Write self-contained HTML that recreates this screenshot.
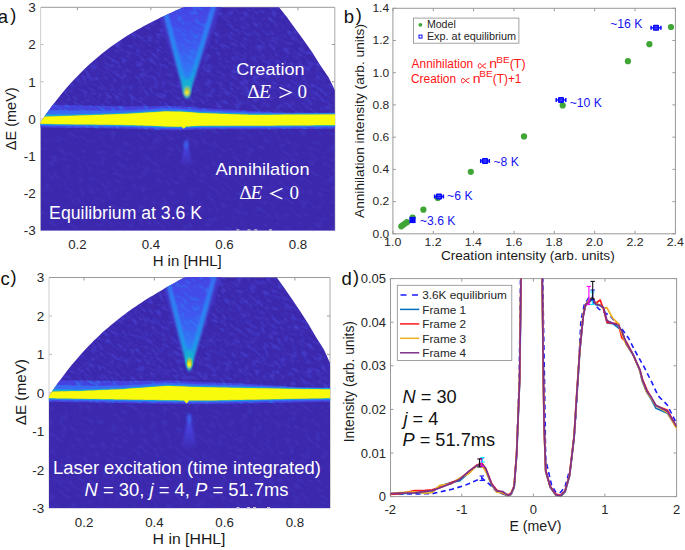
<!DOCTYPE html>
<html><head><meta charset="utf-8"><style>
html,body{margin:0;padding:0;background:#fff;}
svg{display:block;}
</style></head><body>
<svg width="685" height="550" viewBox="0 0 685 550">
<rect width="685" height="550" fill="#fff"/>
<defs><filter id="noisea" x="0" y="0" width="100%" height="100%"><feTurbulence type="fractalNoise" baseFrequency="0.045 0.11" numOctaves="2" seed="4" result="t"/><feColorMatrix in="t" type="matrix" values="0 0 0 0 0  0 0 0 0 0  0 0 0 0 0  0 0 0 4 -2.0" result="m"/><feComposite in="SourceGraphic" in2="m" operator="in"/></filter><filter id="noiseab" x="0" y="0" width="100%" height="100%"><feTurbulence type="fractalNoise" baseFrequency="0.05 0.12" numOctaves="2" seed="9" result="t"/><feColorMatrix in="t" type="matrix" values="0 0 0 0 0  0 0 0 0 0  0 0 0 0 0  0 0 0 4 -2.0" result="m"/><feComposite in="SourceGraphic" in2="m" operator="in"/></filter><filter id="noisec" x="0" y="0" width="100%" height="100%"><feTurbulence type="fractalNoise" baseFrequency="0.045 0.11" numOctaves="2" seed="7" result="t"/><feColorMatrix in="t" type="matrix" values="0 0 0 0 0  0 0 0 0 0  0 0 0 0 0  0 0 0 4 -2.0" result="m"/><feComposite in="SourceGraphic" in2="m" operator="in"/></filter><filter id="noisecb" x="0" y="0" width="100%" height="100%"><feTurbulence type="fractalNoise" baseFrequency="0.05 0.12" numOctaves="2" seed="11" result="t"/><feColorMatrix in="t" type="matrix" values="0 0 0 0 0  0 0 0 0 0  0 0 0 0 0  0 0 0 4 -2.0" result="m"/><feComposite in="SourceGraphic" in2="m" operator="in"/></filter>
<filter id="blur1" x="-5%" y="-5%" width="110%" height="110%"><feGaussianBlur stdDeviation="2.2"/></filter><filter id="blur2"><feGaussianBlur stdDeviation="5"/></filter><filter id="blur4" x="-10%" y="-10%" width="120%" height="120%"><feGaussianBlur stdDeviation="3.5"/></filter><filter id="blur3" x="-5%" y="-5%" width="110%" height="110%"><feGaussianBlur stdDeviation="1.4"/></filter></defs>
<line x1="40.6" y1="7.3" x2="334.8" y2="7.3" stroke="#9a9a9a" stroke-width="1"/>
<line x1="40.6" y1="7.3" x2="40.6" y2="230.6" stroke="#cfcfcf" stroke-width="1"/>
<line x1="334.8" y1="7.3" x2="334.8" y2="230.6" stroke="#a8a8a8" stroke-width="1"/>
<line x1="77.4" y1="7.3" x2="77.4" y2="10.3" stroke="#9a9a9a"/>
<line x1="150.9" y1="7.3" x2="150.9" y2="10.3" stroke="#9a9a9a"/>
<line x1="224.5" y1="7.3" x2="224.5" y2="10.3" stroke="#9a9a9a"/>
<line x1="298.0" y1="7.3" x2="298.0" y2="10.3" stroke="#9a9a9a"/>
<line x1="331.8" y1="44.5" x2="334.8" y2="44.5" stroke="#9a9a9a"/>
<line x1="40.6" y1="44.5" x2="43.6" y2="44.5" stroke="#bdbdbd"/>
<line x1="331.8" y1="81.7" x2="334.8" y2="81.7" stroke="#9a9a9a"/>
<line x1="40.6" y1="81.7" x2="43.6" y2="81.7" stroke="#bdbdbd"/>
<line x1="331.8" y1="118.9" x2="334.8" y2="118.9" stroke="#9a9a9a"/>
<line x1="40.6" y1="118.9" x2="43.6" y2="118.9" stroke="#bdbdbd"/>
<line x1="331.8" y1="156.2" x2="334.8" y2="156.2" stroke="#9a9a9a"/>
<line x1="40.6" y1="156.2" x2="43.6" y2="156.2" stroke="#bdbdbd"/>
<line x1="331.8" y1="193.4" x2="334.8" y2="193.4" stroke="#9a9a9a"/>
<line x1="40.6" y1="193.4" x2="43.6" y2="193.4" stroke="#bdbdbd"/>
<clipPath id="hca"><polygon points="-1.0,311.5 0.0,308.5 8.0,296.9 16.0,285.6 24.0,274.7 32.0,264.0 40.0,253.7 48.0,243.6 56.0,233.8 64.0,224.3 72.0,215.1 80.0,206.2 88.0,197.5 96.0,189.1 104.0,180.9 112.0,173.0 120.0,165.3 128.0,157.8 136.0,150.5 144.0,143.5 152.0,136.7 160.0,130.1 168.0,123.6 176.0,117.4 184.0,111.4 192.0,105.5 200.0,99.8 208.0,94.3 216.0,88.9 224.0,83.7 232.0,78.6 240.0,73.7 248.0,68.9 256.0,64.3 264.0,59.7 272.0,55.3 280.0,51.0 288.0,46.8 296.0,42.6 304.0,38.6 312.0,34.7 320.0,30.8 328.0,27.0 336.0,23.3 344.0,19.6 352.0,16.0 360.0,12.4 368.0,8.8 376.0,5.3 384.0,1.9 392.0,-1.0 392.0,-1.0 648.5,-1.0 648.5,0.0 670.0,27.0 693.0,58.0 716.0,89.0 738.0,120.0 760.0,155.0 783.0,188.0 801.0,224.0 801.0,601.0 -1.0,601.0"/></clipPath>
<g transform="translate(40.6,7.3) scale(0.36775,0.37217)" clip-path="url(#hca)">
<rect x="0" y="0" width="800" height="600" fill="#3c28ad"/>
<g clip-path="url(#lowera)"><rect x="-300" y="-300" width="1400" height="1200" fill="#4846d0" filter="url(#noisea)" opacity="0.3" transform="rotate(35 400 300)"/></g>
<clipPath id="lowera"><rect x="0" y="0" width="800" height="600"/></clipPath><clipPath id="uppera"><rect x="0" y="0" width="800" height="290"/></clipPath>
<g clip-path="url(#uppera)"><rect x="-300" y="-300" width="1400" height="1200" fill="#4c4ade" filter="url(#noiseab)" opacity="0.5" transform="rotate(35 400 300)"/></g>
<g filter="url(#blur3)">
<path d="M-5.0,262.5 L13.2,262.6 L26.4,262.7 L39.6,262.8 L52.8,263.0 L63.6,263.1 L74.5,263.2 L85.4,263.3 L96.3,263.5 L107.1,263.6 L118.0,263.7 L128.9,264.0 L139.8,264.3 L150.6,264.6 L161.5,264.9 L173.2,265.1 L184.8,265.4 L196.5,265.6 L208.1,265.9 L219.8,266.1 L231.4,266.4 L243.1,266.6 L254.0,266.6 L264.9,266.6 L275.7,266.5 L286.6,266.5 L297.5,266.4 L311.1,265.9 L324.7,265.4 L338.3,264.8 L351.9,265.2 L365.5,265.6 L379.1,266.0 L389.9,266.9 L400.8,267.8 L411.7,268.8 L422.6,269.7 L433.4,270.6 L444.8,271.2 L456.1,271.8 L467.4,272.4 L478.8,273.0 L490.1,273.6 L501.4,274.2 L512.8,274.8 L524.1,275.4 L535.4,275.9 L546.7,276.6 L558.1,277.6 L569.4,278.6 L580.7,279.1 L592.1,279.6 L603.4,280.2 L614.7,280.7 L626.1,281.2 L637.4,281.8 L648.7,282.3 L660.0,282.8 L671.4,283.1 L682.7,283.1 L694.0,283.2 L705.4,283.2 L717.3,283.2 L729.2,283.3 L741.1,283.3 L753.0,283.3 L764.9,283.3 L776.8,283.3 L788.6,283.3 L805.0,283.4 L805.0,326.2 L788.6,326.3 L776.8,326.4 L764.9,326.5 L753.0,326.6 L741.1,326.7 L729.2,326.8 L717.3,326.9 L705.4,327.0 L694.0,327.1 L682.7,327.1 L671.4,327.2 L660.0,327.3 L648.7,327.3 L637.4,327.4 L626.1,327.5 L614.7,327.5 L603.4,327.6 L592.1,327.7 L580.7,327.7 L569.4,327.8 L558.1,327.8 L546.7,327.9 L535.4,327.9 L524.1,327.9 L512.8,327.9 L501.4,327.9 L490.1,328.0 L478.8,328.0 L467.4,328.0 L456.1,328.0 L444.8,328.1 L433.4,328.1 L422.6,328.6 L411.7,329.0 L400.8,329.5 L389.9,330.0 L379.1,330.5 L365.5,330.3 L351.9,330.1 L338.3,330.0 L324.7,329.2 L311.1,328.5 L297.5,327.8 L286.6,327.5 L275.7,327.2 L264.9,326.8 L254.0,326.5 L243.1,326.2 L231.4,326.0 L219.8,325.8 L208.1,325.6 L196.5,325.4 L184.8,325.2 L173.2,325.0 L161.5,324.9 L150.6,324.7 L139.8,324.6 L128.9,324.5 L118.0,324.4 L107.1,324.3 L96.3,324.2 L85.4,324.1 L74.5,324.0 L63.6,323.9 L52.8,323.8 L39.6,323.4 L26.4,323.1 L13.2,322.8 L-5.0,322.4 Z" fill="#4640de"/>
<clipPath id="haloa"><path d="M-5.0,262.5 L13.2,262.6 L26.4,262.7 L39.6,262.8 L52.8,263.0 L63.6,263.1 L74.5,263.2 L85.4,263.3 L96.3,263.5 L107.1,263.6 L118.0,263.7 L128.9,264.0 L139.8,264.3 L150.6,264.6 L161.5,264.9 L173.2,265.1 L184.8,265.4 L196.5,265.6 L208.1,265.9 L219.8,266.1 L231.4,266.4 L243.1,266.6 L254.0,266.6 L264.9,266.6 L275.7,266.5 L286.6,266.5 L297.5,266.4 L311.1,265.9 L324.7,265.4 L338.3,264.8 L351.9,265.2 L365.5,265.6 L379.1,266.0 L389.9,266.9 L400.8,267.8 L411.7,268.8 L422.6,269.7 L433.4,270.6 L444.8,271.2 L456.1,271.8 L467.4,272.4 L478.8,273.0 L490.1,273.6 L501.4,274.2 L512.8,274.8 L524.1,275.4 L535.4,275.9 L546.7,276.6 L558.1,277.6 L569.4,278.6 L580.7,279.1 L592.1,279.6 L603.4,280.2 L614.7,280.7 L626.1,281.2 L637.4,281.8 L648.7,282.3 L660.0,282.8 L671.4,283.1 L682.7,283.1 L694.0,283.2 L705.4,283.2 L717.3,283.2 L729.2,283.3 L741.1,283.3 L753.0,283.3 L764.9,283.3 L776.8,283.3 L788.6,283.3 L805.0,283.4 L805.0,326.2 L788.6,326.3 L776.8,326.4 L764.9,326.5 L753.0,326.6 L741.1,326.7 L729.2,326.8 L717.3,326.9 L705.4,327.0 L694.0,327.1 L682.7,327.1 L671.4,327.2 L660.0,327.3 L648.7,327.3 L637.4,327.4 L626.1,327.5 L614.7,327.5 L603.4,327.6 L592.1,327.7 L580.7,327.7 L569.4,327.8 L558.1,327.8 L546.7,327.9 L535.4,327.9 L524.1,327.9 L512.8,327.9 L501.4,327.9 L490.1,328.0 L478.8,328.0 L467.4,328.0 L456.1,328.0 L444.8,328.1 L433.4,328.1 L422.6,328.6 L411.7,329.0 L400.8,329.5 L389.9,330.0 L379.1,330.5 L365.5,330.3 L351.9,330.1 L338.3,330.0 L324.7,329.2 L311.1,328.5 L297.5,327.8 L286.6,327.5 L275.7,327.2 L264.9,326.8 L254.0,326.5 L243.1,326.2 L231.4,326.0 L219.8,325.8 L208.1,325.6 L196.5,325.4 L184.8,325.2 L173.2,325.0 L161.5,324.9 L150.6,324.7 L139.8,324.6 L128.9,324.5 L118.0,324.4 L107.1,324.3 L96.3,324.2 L85.4,324.1 L74.5,324.0 L63.6,323.9 L52.8,323.8 L39.6,323.4 L26.4,323.1 L13.2,322.8 L-5.0,322.4 Z"/></clipPath>
<g clip-path="url(#haloa)"><rect x="-300" y="-300" width="1400" height="1200" fill="#2392ef" filter="url(#noiseab)" opacity="0.55" transform="rotate(35 400 300)"/></g>
<path d="M-5.0,276.0 L13.2,276.1 L26.4,276.3 L39.6,276.5 L52.8,276.7 L63.6,276.9 L74.5,277.1 L85.4,277.2 L96.3,277.4 L107.1,277.6 L118.0,277.6 L128.9,277.6 L139.8,277.6 L150.6,277.5 L161.5,277.5 L173.2,277.4 L184.8,277.3 L196.5,277.2 L208.1,277.1 L219.8,276.9 L231.4,276.8 L243.1,276.7 L254.0,276.1 L264.9,275.5 L275.7,274.9 L286.6,274.2 L297.5,273.6 L311.1,272.9 L324.7,272.2 L338.3,271.4 L351.9,271.7 L365.5,272.0 L379.1,272.2 L389.9,273.0 L400.8,273.9 L411.7,274.7 L422.6,275.5 L433.4,276.3 L444.8,276.8 L456.1,277.3 L467.4,277.8 L478.8,278.2 L490.1,278.7 L501.4,279.2 L512.8,279.7 L524.1,280.1 L535.4,280.6 L546.7,281.1 L558.1,281.8 L569.4,282.5 L580.7,282.8 L592.1,283.0 L603.4,283.3 L614.7,283.6 L626.1,283.8 L637.4,284.1 L648.7,284.3 L660.0,284.6 L671.4,284.7 L682.7,284.7 L694.0,284.7 L705.4,284.8 L717.3,284.8 L729.2,284.8 L741.1,284.8 L753.0,284.7 L764.9,284.7 L776.8,284.7 L788.6,284.7 L805.0,284.7 L805.0,321.9 L788.6,322.0 L776.8,322.1 L764.9,322.2 L753.0,322.3 L741.1,322.4 L729.2,322.5 L717.3,322.6 L705.4,322.7 L694.0,322.8 L682.7,322.8 L671.4,322.9 L660.0,323.0 L648.7,323.0 L637.4,323.1 L626.1,323.2 L614.7,323.2 L603.4,323.3 L592.1,323.4 L580.7,323.4 L569.4,323.5 L558.1,323.5 L546.7,323.6 L535.4,323.6 L524.1,323.6 L512.8,323.6 L501.4,323.6 L490.1,323.7 L478.8,323.7 L467.4,323.7 L456.1,323.7 L444.8,323.8 L433.4,323.8 L422.6,324.3 L411.7,324.7 L400.8,325.2 L389.9,325.7 L379.1,326.2 L365.5,326.0 L351.9,325.8 L338.3,325.7 L324.7,324.9 L311.1,324.2 L297.5,323.5 L286.6,323.2 L275.7,322.9 L264.9,322.5 L254.0,322.2 L243.1,321.9 L231.4,321.7 L219.8,321.5 L208.1,321.3 L196.5,321.1 L184.8,320.9 L173.2,320.7 L161.5,320.6 L150.6,320.4 L139.8,320.3 L128.9,320.2 L118.0,320.1 L107.1,320.0 L96.3,319.9 L85.4,319.8 L74.5,319.7 L63.6,319.6 L52.8,319.5 L39.6,319.1 L26.4,318.8 L13.2,318.5 L-5.0,318.1 Z" fill="#386af4"/>
<path d="M-5.0,288.0 L13.2,288.0 L26.4,288.0 L39.6,287.9 L52.8,287.9 L63.6,287.9 L74.5,287.9 L85.4,287.8 L96.3,287.5 L107.1,287.3 L118.0,287.0 L128.9,286.7 L139.8,286.4 L150.6,286.1 L161.5,285.8 L173.2,285.4 L184.8,285.0 L196.5,284.7 L208.1,284.3 L219.8,283.9 L231.4,283.4 L243.1,282.9 L254.0,282.2 L264.9,281.5 L275.7,280.8 L286.6,280.1 L297.5,279.4 L311.1,278.6 L324.7,277.8 L338.3,277.0 L351.9,277.2 L365.5,277.4 L379.1,277.6 L389.9,278.3 L400.8,279.1 L411.7,279.8 L422.6,280.6 L433.4,281.3 L444.8,281.7 L456.1,282.1 L467.4,282.5 L478.8,282.9 L490.1,283.3 L501.4,283.7 L512.8,284.1 L524.1,284.5 L535.4,285.0 L546.7,285.4 L558.1,285.8 L569.4,286.2 L580.7,286.1 L592.1,286.1 L603.4,286.0 L614.7,286.0 L626.1,285.9 L637.4,285.9 L648.7,285.8 L660.0,285.8 L671.4,285.8 L682.7,285.7 L694.0,285.7 L705.4,285.6 L717.3,285.6 L729.2,285.5 L741.1,285.4 L753.0,285.4 L764.9,285.3 L776.8,285.2 L788.6,285.2 L805.0,285.1 L805.0,318.9 L788.6,319.0 L776.8,319.1 L764.9,319.2 L753.0,319.3 L741.1,319.4 L729.2,319.5 L717.3,319.6 L705.4,319.7 L694.0,319.8 L682.7,319.9 L671.4,320.0 L660.0,320.0 L648.7,320.1 L637.4,320.2 L626.1,320.2 L614.7,320.3 L603.4,320.4 L592.1,320.4 L580.7,320.5 L569.4,320.6 L558.1,320.6 L546.7,320.6 L535.4,320.6 L524.1,320.6 L512.8,320.7 L501.4,320.7 L490.1,320.7 L478.8,320.7 L467.4,320.8 L456.1,320.8 L444.8,320.8 L433.4,320.8 L422.6,321.3 L411.7,321.8 L400.8,322.3 L389.9,322.8 L379.1,323.2 L365.5,323.1 L351.9,322.9 L338.3,322.7 L324.7,322.0 L311.1,321.3 L297.5,320.6 L286.6,320.2 L275.7,319.9 L264.9,319.6 L254.0,319.3 L243.1,318.9 L231.4,318.8 L219.8,318.6 L208.1,318.4 L196.5,318.2 L184.8,318.0 L173.2,317.8 L161.5,317.6 L150.6,317.5 L139.8,317.4 L128.9,317.3 L118.0,317.2 L107.1,317.1 L96.3,317.0 L85.4,316.8 L74.5,316.7 L63.6,316.6 L52.8,316.5 L39.6,316.2 L26.4,315.9 L13.2,315.5 L-5.0,315.2 Z" fill="#14b1d0"/>
<path d="M-5.0,294.0 L13.2,293.5 L26.4,293.0 L39.6,292.5 L52.8,292.1 L63.6,291.7 L74.5,291.4 L85.4,291.0 L96.3,290.7 L107.1,290.3 L118.0,290.0 L128.9,289.6 L139.8,289.3 L150.6,288.9 L161.5,288.6 L173.2,288.1 L184.8,287.7 L196.5,287.2 L208.1,286.7 L219.8,286.3 L231.4,285.8 L243.1,285.4 L254.0,284.7 L264.9,284.0 L275.7,283.3 L286.6,282.6 L297.5,281.9 L311.1,281.1 L324.7,280.3 L338.3,279.4 L351.9,279.6 L365.5,279.8 L379.1,280.0 L389.9,280.7 L400.8,281.5 L411.7,282.2 L422.6,283.0 L433.4,283.7 L444.8,284.1 L456.1,284.5 L467.4,285.0 L478.8,285.4 L490.1,285.8 L501.4,286.2 L512.8,286.6 L524.1,287.0 L535.4,287.4 L546.7,287.8 L558.1,288.2 L569.4,288.6 L580.7,288.5 L592.1,288.5 L603.4,288.4 L614.7,288.4 L626.1,288.4 L637.4,288.3 L648.7,288.3 L660.0,288.2 L671.4,288.2 L682.7,288.1 L694.0,288.1 L705.4,288.0 L717.3,288.0 L729.2,287.9 L741.1,287.8 L753.0,287.8 L764.9,287.7 L776.8,287.6 L788.6,287.6 L805.0,287.5 L805.0,316.8 L788.6,316.9 L776.8,317.0 L764.9,317.1 L753.0,317.2 L741.1,317.3 L729.2,317.4 L717.3,317.5 L705.4,317.6 L694.0,317.7 L682.7,317.7 L671.4,317.8 L660.0,317.9 L648.7,317.9 L637.4,318.0 L626.1,318.1 L614.7,318.1 L603.4,318.2 L592.1,318.3 L580.7,318.3 L569.4,318.4 L558.1,318.4 L546.7,318.5 L535.4,318.5 L524.1,318.5 L512.8,318.5 L501.4,318.5 L490.1,318.6 L478.8,318.6 L467.4,318.6 L456.1,318.6 L444.8,318.7 L433.4,318.7 L422.6,319.2 L411.7,319.6 L400.8,320.1 L389.9,320.6 L379.1,321.1 L365.5,320.9 L351.9,320.7 L338.3,320.6 L324.7,319.8 L311.1,319.1 L297.5,318.4 L286.6,318.1 L275.7,317.8 L264.9,317.4 L254.0,317.1 L243.1,316.8 L231.4,316.6 L219.8,316.4 L208.1,316.2 L196.5,316.0 L184.8,315.8 L173.2,315.6 L161.5,315.5 L150.6,315.3 L139.8,315.2 L128.9,315.1 L118.0,315.0 L107.1,314.9 L96.3,314.8 L85.4,314.7 L74.5,314.6 L63.6,314.5 L52.8,314.4 L39.6,314.0 L26.4,313.7 L13.2,313.4 L-5.0,313.0 Z" fill="#cec236"/>
<path d="M-5.0,294.8 L13.2,294.3 L26.4,293.8 L39.6,293.3 L52.8,292.9 L63.6,292.5 L74.5,292.2 L85.4,291.8 L96.3,291.5 L107.1,291.1 L118.0,290.8 L128.9,290.4 L139.8,290.1 L150.6,289.7 L161.5,289.4 L173.2,288.9 L184.8,288.5 L196.5,288.0 L208.1,287.5 L219.8,287.1 L231.4,286.6 L243.1,286.2 L254.0,285.5 L264.9,284.8 L275.7,284.1 L286.6,283.4 L297.5,282.7 L311.1,281.9 L324.7,281.1 L338.3,280.3 L351.9,280.4 L365.5,280.6 L379.1,280.8 L389.9,281.5 L400.8,282.3 L411.7,283.0 L422.6,283.8 L433.4,284.5 L444.8,285.0 L456.1,285.4 L467.4,285.8 L478.8,286.2 L490.1,286.6 L501.4,287.0 L512.8,287.4 L524.1,287.8 L535.4,288.2 L546.7,288.6 L558.1,289.0 L569.4,289.4 L580.7,289.3 L592.1,289.3 L603.4,289.3 L614.7,289.2 L626.1,289.2 L637.4,289.1 L648.7,289.1 L660.0,289.0 L671.4,289.0 L682.7,288.9 L694.0,288.9 L705.4,288.8 L717.3,288.8 L729.2,288.7 L741.1,288.6 L753.0,288.6 L764.9,288.5 L776.8,288.4 L788.6,288.4 L805.0,288.3 L805.0,316.0 L788.6,316.1 L776.8,316.2 L764.9,316.3 L753.0,316.4 L741.1,316.5 L729.2,316.6 L717.3,316.7 L705.4,316.8 L694.0,316.9 L682.7,316.9 L671.4,317.0 L660.0,317.1 L648.7,317.1 L637.4,317.2 L626.1,317.3 L614.7,317.3 L603.4,317.4 L592.1,317.5 L580.7,317.5 L569.4,317.6 L558.1,317.6 L546.7,317.6 L535.4,317.7 L524.1,317.7 L512.8,317.7 L501.4,317.7 L490.1,317.8 L478.8,317.8 L467.4,317.8 L456.1,317.8 L444.8,317.8 L433.4,317.9 L422.6,318.4 L411.7,318.8 L400.8,319.3 L389.9,319.8 L379.1,320.3 L365.5,320.1 L351.9,319.9 L338.3,319.7 L324.7,319.0 L311.1,318.3 L297.5,317.6 L286.6,317.3 L275.7,317.0 L264.9,316.6 L254.0,316.3 L243.1,316.0 L231.4,315.8 L219.8,315.6 L208.1,315.4 L196.5,315.2 L184.8,315.0 L173.2,314.8 L161.5,314.6 L150.6,314.5 L139.8,314.4 L128.9,314.3 L118.0,314.2 L107.1,314.1 L96.3,314.0 L85.4,313.9 L74.5,313.8 L63.6,313.7 L52.8,313.6 L39.6,313.2 L26.4,312.9 L13.2,312.6 L-5.0,312.2 Z" fill="#f9fb0e"/>
<polygon points="380.1,311.9 398.1,311.9 394.1,321.9 389.1,326.4 384.1,321.9" fill="#f9fb0e"/>
</g>
<linearGradient id="mga" gradientUnits="userSpaceOnUse" x1="0" y1="355.21719659650694" x2="0" y2="421.0479175996417"><stop offset="0" stop-color="#4057ef"/><stop offset="0.5" stop-color="#453ed8"/><stop offset="1" stop-color="#402eb8"/></linearGradient>
<g filter="url(#blur4)"><polygon points="396.1,355.2 380.1,421.0 412.1,421.0" fill="url(#mga)"/>
<ellipse cx="396.0526852481306" cy="369.21719659650694" rx="7" ry="12" fill="#3c61f1" opacity="0.8"/></g>
<g filter="url(#blur4)">
<polygon points="313.5,-5.0 492.5,-5.0 397.6,255.1" fill="#4236c8"/>
<polygon points="329.5,-5.0 476.5,-5.0 397.6,245.1" fill="url(#conega)"/>
<polyline points="334.5,-5.0 397.6,237.1 471.5,-5.0" fill="none" stroke="url(#coneEa)" stroke-width="12" stroke-linejoin="round"/>
</g>
<clipPath id="coneca"><polygon points="337.5,-5.0 468.5,-5.0 397.6,225.1"/></clipPath>
<g clip-path="url(#coneca)"><rect x="-300" y="-300" width="1400" height="1200" fill="#2c85f7" filter="url(#noiseab)" opacity="0.45" transform="rotate(35 400 300)"/></g>
<g filter="url(#blur1)">
<ellipse cx="397.5526852481306" cy="217.05150022391405" rx="12" ry="26" fill="#14b1d0" opacity="0.9"/>
<ellipse cx="398.5526852481306" cy="226.05150022391405" rx="8" ry="12" fill="#98c841"/>
<ellipse cx="397.5526852481306" cy="229.05150022391405" rx="5.5" ry="7" fill="#fdc933"/>
<ellipse cx="397.5526852481306" cy="230.05150022391405" rx="4" ry="5" fill="#f9fb0e"/>
</g>
<linearGradient id="conega" gradientUnits="userSpaceOnUse" x1="0" y1="0" x2="0" y2="245.05150022391405"><stop offset="0" stop-color="#4643e3"/><stop offset="0.4" stop-color="#4057ef"/><stop offset="0.65" stop-color="#366ff5"/><stop offset="0.8" stop-color="#278bf3"/><stop offset="0.92" stop-color="#15a5e4"/><stop offset="1" stop-color="#15b6c5"/></linearGradient>
<linearGradient id="coneEa" gradientUnits="userSpaceOnUse" x1="0" y1="0" x2="0" y2="245.05150022391405"><stop offset="0" stop-color="#3473f6"/><stop offset="0.4" stop-color="#2988f5"/><stop offset="0.72" stop-color="#1e98eb"/><stop offset="0.88" stop-color="#14b1d0"/><stop offset="1" stop-color="#21c1a8"/></linearGradient>
</g>
<line x1="49" y1="277.5" x2="330" y2="277.5" stroke="#9a9a9a" stroke-width="1"/>
<line x1="49" y1="277.5" x2="49" y2="508.3" stroke="#cfcfcf" stroke-width="1"/>
<line x1="330" y1="277.5" x2="330" y2="508.3" stroke="#a8a8a8" stroke-width="1"/>
<line x1="84.1" y1="277.5" x2="84.1" y2="280.5" stroke="#9a9a9a"/>
<line x1="154.4" y1="277.5" x2="154.4" y2="280.5" stroke="#9a9a9a"/>
<line x1="224.6" y1="277.5" x2="224.6" y2="280.5" stroke="#9a9a9a"/>
<line x1="294.9" y1="277.5" x2="294.9" y2="280.5" stroke="#9a9a9a"/>
<line x1="327" y1="316.0" x2="330" y2="316.0" stroke="#9a9a9a"/>
<line x1="49" y1="316.0" x2="52" y2="316.0" stroke="#bdbdbd"/>
<line x1="327" y1="354.4" x2="330" y2="354.4" stroke="#9a9a9a"/>
<line x1="49" y1="354.4" x2="52" y2="354.4" stroke="#bdbdbd"/>
<line x1="327" y1="392.9" x2="330" y2="392.9" stroke="#9a9a9a"/>
<line x1="49" y1="392.9" x2="52" y2="392.9" stroke="#bdbdbd"/>
<line x1="327" y1="431.4" x2="330" y2="431.4" stroke="#9a9a9a"/>
<line x1="49" y1="431.4" x2="52" y2="431.4" stroke="#bdbdbd"/>
<line x1="327" y1="469.8" x2="330" y2="469.8" stroke="#9a9a9a"/>
<line x1="49" y1="469.8" x2="52" y2="469.8" stroke="#bdbdbd"/>
<clipPath id="hcc"><polygon points="-1.0,311.2 0.0,308.2 8.0,297.3 16.0,286.6 24.0,276.3 32.0,266.2 40.0,256.4 48.0,246.8 56.0,237.5 64.0,228.4 72.0,219.6 80.0,211.0 88.0,202.6 96.0,194.5 104.0,186.6 112.0,178.9 120.0,171.4 128.0,164.1 136.0,157.0 144.0,150.0 152.0,143.3 160.0,136.8 168.0,130.4 176.0,124.1 184.0,118.1 192.0,112.2 200.0,106.4 208.0,100.8 216.0,95.3 224.0,89.9 232.0,84.7 240.0,79.6 248.0,74.6 256.0,69.6 264.0,64.8 272.0,60.1 280.0,55.5 288.0,51.0 296.0,46.5 304.0,42.1 312.0,37.7 320.0,33.5 328.0,29.2 336.0,25.0 344.0,20.9 352.0,16.8 360.0,12.7 368.0,8.6 376.0,4.6 384.0,0.5 392.0,-1.0 392.0,-1.0 648.5,-1.0 648.5,0.0 670.0,27.0 693.0,58.0 716.0,89.0 738.0,120.0 760.0,155.0 783.0,188.0 801.0,224.0 801.0,601.0 -1.0,601.0"/></clipPath>
<g transform="translate(49,277.5) scale(0.35125,0.38467)" clip-path="url(#hcc)">
<rect x="0" y="0" width="800" height="600" fill="#3c28ad"/>
<g clip-path="url(#lowerc)"><rect x="-300" y="-300" width="1400" height="1200" fill="#4846d0" filter="url(#noisec)" opacity="0.3" transform="rotate(35 400 300)"/></g>
<clipPath id="lowerc"><rect x="0" y="0" width="800" height="600"/></clipPath><clipPath id="upperc"><rect x="0" y="0" width="800" height="290"/></clipPath>
<g clip-path="url(#upperc)"><rect x="-300" y="-300" width="1400" height="1200" fill="#4c4ade" filter="url(#noisecb)" opacity="0.5" transform="rotate(35 400 300)"/></g>
<g filter="url(#blur3)">
<path d="M-5.0,265.9 L12.6,266.2 L25.2,266.5 L37.8,266.8 L50.4,267.1 L63.0,267.4 L75.6,267.7 L88.3,268.0 L99.6,268.0 L111.0,268.0 L122.4,268.0 L133.8,268.1 L145.2,268.3 L156.6,268.5 L168.0,268.7 L179.4,268.9 L190.7,269.1 L202.1,269.3 L214.3,269.2 L226.5,269.1 L238.7,268.9 L250.9,268.8 L263.1,268.7 L275.3,268.5 L287.5,268.4 L300.4,268.3 L313.2,268.2 L326.0,267.5 L338.8,266.9 L351.3,267.6 L363.8,268.3 L376.4,269.0 L388.9,269.7 L401.4,270.4 L415.7,271.0 L429.9,271.5 L444.1,272.1 L455.8,272.5 L467.4,272.9 L479.1,273.3 L490.7,273.7 L502.4,274.0 L514.0,274.4 L525.7,274.8 L537.3,275.2 L548.9,275.6 L560.6,276.0 L572.2,276.5 L584.1,277.2 L596.0,278.0 L607.8,278.7 L619.7,279.5 L631.6,280.2 L643.4,281.0 L655.3,281.7 L667.1,282.5 L679.0,283.2 L690.9,284.0 L702.7,284.5 L714.6,284.8 L726.8,285.0 L739.0,285.2 L751.2,285.4 L763.4,285.5 L775.6,285.7 L787.8,285.9 L805.0,286.1 L805.0,323.1 L787.8,323.3 L775.6,323.5 L763.4,323.7 L751.2,323.9 L739.0,324.1 L726.8,324.3 L714.6,324.4 L702.7,324.7 L690.9,324.9 L679.0,325.1 L667.1,325.3 L655.3,325.5 L643.4,325.7 L631.6,326.0 L619.7,326.2 L607.8,326.4 L596.0,326.6 L584.1,326.8 L572.2,327.0 L560.6,327.2 L548.9,327.4 L537.3,327.6 L525.7,327.8 L514.0,328.0 L502.4,328.2 L490.7,328.4 L479.1,328.5 L467.4,328.7 L455.8,328.9 L444.1,329.1 L429.9,329.0 L415.7,328.9 L401.4,328.9 L388.9,328.8 L376.4,328.6 L363.8,328.5 L351.3,328.4 L338.8,328.3 L326.0,328.1 L313.2,327.9 L300.4,327.8 L287.5,327.6 L275.3,327.4 L263.1,327.2 L250.9,327.0 L238.7,326.8 L226.5,326.6 L214.3,326.4 L202.1,326.3 L190.7,326.1 L179.4,325.9 L168.0,325.7 L156.6,325.5 L145.2,325.3 L133.8,325.2 L122.4,325.0 L111.0,324.8 L99.6,324.6 L88.3,324.4 L75.6,324.3 L63.0,324.1 L50.4,323.9 L37.8,323.7 L25.2,323.5 L12.6,323.3 L-5.0,323.1 Z" fill="#4640de"/>
<clipPath id="haloc"><path d="M-5.0,265.9 L12.6,266.2 L25.2,266.5 L37.8,266.8 L50.4,267.1 L63.0,267.4 L75.6,267.7 L88.3,268.0 L99.6,268.0 L111.0,268.0 L122.4,268.0 L133.8,268.1 L145.2,268.3 L156.6,268.5 L168.0,268.7 L179.4,268.9 L190.7,269.1 L202.1,269.3 L214.3,269.2 L226.5,269.1 L238.7,268.9 L250.9,268.8 L263.1,268.7 L275.3,268.5 L287.5,268.4 L300.4,268.3 L313.2,268.2 L326.0,267.5 L338.8,266.9 L351.3,267.6 L363.8,268.3 L376.4,269.0 L388.9,269.7 L401.4,270.4 L415.7,271.0 L429.9,271.5 L444.1,272.1 L455.8,272.5 L467.4,272.9 L479.1,273.3 L490.7,273.7 L502.4,274.0 L514.0,274.4 L525.7,274.8 L537.3,275.2 L548.9,275.6 L560.6,276.0 L572.2,276.5 L584.1,277.2 L596.0,278.0 L607.8,278.7 L619.7,279.5 L631.6,280.2 L643.4,281.0 L655.3,281.7 L667.1,282.5 L679.0,283.2 L690.9,284.0 L702.7,284.5 L714.6,284.8 L726.8,285.0 L739.0,285.2 L751.2,285.4 L763.4,285.5 L775.6,285.7 L787.8,285.9 L805.0,286.1 L805.0,323.1 L787.8,323.3 L775.6,323.5 L763.4,323.7 L751.2,323.9 L739.0,324.1 L726.8,324.3 L714.6,324.4 L702.7,324.7 L690.9,324.9 L679.0,325.1 L667.1,325.3 L655.3,325.5 L643.4,325.7 L631.6,326.0 L619.7,326.2 L607.8,326.4 L596.0,326.6 L584.1,326.8 L572.2,327.0 L560.6,327.2 L548.9,327.4 L537.3,327.6 L525.7,327.8 L514.0,328.0 L502.4,328.2 L490.7,328.4 L479.1,328.5 L467.4,328.7 L455.8,328.9 L444.1,329.1 L429.9,329.0 L415.7,328.9 L401.4,328.9 L388.9,328.8 L376.4,328.6 L363.8,328.5 L351.3,328.4 L338.8,328.3 L326.0,328.1 L313.2,327.9 L300.4,327.8 L287.5,327.6 L275.3,327.4 L263.1,327.2 L250.9,327.0 L238.7,326.8 L226.5,326.6 L214.3,326.4 L202.1,326.3 L190.7,326.1 L179.4,325.9 L168.0,325.7 L156.6,325.5 L145.2,325.3 L133.8,325.2 L122.4,325.0 L111.0,324.8 L99.6,324.6 L88.3,324.4 L75.6,324.3 L63.0,324.1 L50.4,323.9 L37.8,323.7 L25.2,323.5 L12.6,323.3 L-5.0,323.1 Z"/></clipPath>
<g clip-path="url(#haloc)"><rect x="-300" y="-300" width="1400" height="1200" fill="#2392ef" filter="url(#noisecb)" opacity="0.55" transform="rotate(35 400 300)"/></g>
<path d="M-5.0,278.9 L12.6,279.3 L25.2,279.6 L37.8,280.0 L50.4,280.4 L63.0,280.7 L75.6,281.1 L88.3,281.4 L99.6,281.5 L111.0,281.6 L122.4,281.5 L133.8,281.4 L145.2,281.2 L156.6,281.1 L168.0,281.0 L179.4,280.8 L190.7,280.7 L202.1,280.6 L214.3,280.1 L226.5,279.6 L238.7,279.1 L250.9,278.6 L263.1,278.0 L275.3,277.3 L287.5,276.5 L300.4,275.8 L313.2,275.0 L326.0,274.2 L338.8,273.4 L351.3,274.0 L363.8,274.6 L376.4,275.2 L388.9,275.8 L401.4,276.4 L415.7,276.8 L429.9,277.3 L444.1,277.7 L455.8,278.0 L467.4,278.3 L479.1,278.5 L490.7,278.8 L502.4,279.1 L514.0,279.4 L525.7,279.7 L537.3,279.9 L548.9,280.2 L560.6,280.5 L572.2,280.8 L584.1,281.3 L596.0,281.8 L607.8,282.3 L619.7,282.8 L631.6,283.3 L643.4,283.7 L655.3,284.2 L667.1,284.7 L679.0,285.2 L690.9,285.7 L702.7,286.1 L714.6,286.3 L726.8,286.5 L739.0,286.7 L751.2,286.8 L763.4,287.0 L775.6,287.2 L787.8,287.3 L805.0,287.5 L805.0,319.0 L787.8,319.2 L775.6,319.3 L763.4,319.5 L751.2,319.7 L739.0,319.9 L726.8,320.1 L714.6,320.3 L702.7,320.5 L690.9,320.7 L679.0,320.9 L667.1,321.1 L655.3,321.4 L643.4,321.6 L631.6,321.8 L619.7,322.0 L607.8,322.2 L596.0,322.4 L584.1,322.7 L572.2,322.9 L560.6,323.1 L548.9,323.3 L537.3,323.4 L525.7,323.6 L514.0,323.8 L502.4,324.0 L490.7,324.2 L479.1,324.4 L467.4,324.6 L455.8,324.8 L444.1,325.0 L429.9,324.9 L415.7,324.8 L401.4,324.7 L388.9,324.6 L376.4,324.5 L363.8,324.4 L351.3,324.3 L338.8,324.2 L326.0,324.0 L313.2,323.8 L300.4,323.6 L287.5,323.4 L275.3,323.2 L263.1,323.0 L250.9,322.8 L238.7,322.7 L226.5,322.5 L214.3,322.3 L202.1,322.1 L190.7,321.9 L179.4,321.7 L168.0,321.6 L156.6,321.4 L145.2,321.2 L133.8,321.0 L122.4,320.8 L111.0,320.6 L99.6,320.5 L88.3,320.3 L75.6,320.1 L63.0,319.9 L50.4,319.7 L37.8,319.5 L25.2,319.3 L12.6,319.2 L-5.0,319.0 Z" fill="#386af4"/>
<path d="M-5.0,290.6 L12.6,290.8 L25.2,291.0 L37.8,291.1 L50.4,291.3 L63.0,291.4 L75.6,291.6 L88.3,291.7 L99.6,291.3 L111.0,290.9 L122.4,290.6 L133.8,290.2 L145.2,289.8 L156.6,289.4 L168.0,289.0 L179.4,288.7 L190.7,288.3 L202.1,287.9 L214.3,287.2 L226.5,286.4 L238.7,285.6 L250.9,284.8 L263.1,284.0 L275.3,283.1 L287.5,282.3 L300.4,281.5 L313.2,280.6 L326.0,279.8 L338.8,278.9 L351.3,279.5 L363.8,280.0 L376.4,280.5 L388.9,281.0 L401.4,281.5 L415.7,281.9 L429.9,282.2 L444.1,282.6 L455.8,282.8 L467.4,283.0 L479.1,283.2 L490.7,283.4 L502.4,283.6 L514.0,283.9 L525.7,284.1 L537.3,284.3 L548.9,284.5 L560.6,284.7 L572.2,284.9 L584.1,285.1 L596.0,285.3 L607.8,285.5 L619.7,285.7 L631.6,285.9 L643.4,286.1 L655.3,286.3 L667.1,286.5 L679.0,286.7 L690.9,286.9 L702.7,287.1 L714.6,287.3 L726.8,287.4 L739.0,287.5 L751.2,287.6 L763.4,287.7 L775.6,287.8 L787.8,287.9 L805.0,288.0 L805.0,316.1 L787.8,316.3 L775.6,316.5 L763.4,316.7 L751.2,316.9 L739.0,317.0 L726.8,317.2 L714.6,317.4 L702.7,317.6 L690.9,317.9 L679.0,318.1 L667.1,318.3 L655.3,318.5 L643.4,318.7 L631.6,318.9 L619.7,319.2 L607.8,319.4 L596.0,319.6 L584.1,319.8 L572.2,320.0 L560.6,320.2 L548.9,320.4 L537.3,320.6 L525.7,320.8 L514.0,321.0 L502.4,321.2 L490.7,321.3 L479.1,321.5 L467.4,321.7 L455.8,321.9 L444.1,322.1 L429.9,322.0 L415.7,321.9 L401.4,321.8 L388.9,321.7 L376.4,321.6 L363.8,321.5 L351.3,321.4 L338.8,321.3 L326.0,321.1 L313.2,320.9 L300.4,320.7 L287.5,320.5 L275.3,320.4 L263.1,320.2 L250.9,320.0 L238.7,319.8 L226.5,319.6 L214.3,319.4 L202.1,319.2 L190.7,319.1 L179.4,318.9 L168.0,318.7 L156.6,318.5 L145.2,318.3 L133.8,318.1 L122.4,318.0 L111.0,317.8 L99.6,317.6 L88.3,317.4 L75.6,317.2 L63.0,317.0 L50.4,316.9 L37.8,316.7 L25.2,316.5 L12.6,316.3 L-5.0,316.1 Z" fill="#14b1d0"/>
<path d="M-5.0,296.4 L12.6,296.1 L25.2,295.9 L37.8,295.7 L50.4,295.5 L63.0,295.2 L75.6,295.0 L88.3,294.8 L99.6,294.4 L111.0,293.9 L122.4,293.5 L133.8,293.0 L145.2,292.6 L156.6,292.1 L168.0,291.7 L179.4,291.3 L190.7,290.8 L202.1,290.4 L214.3,289.6 L226.5,288.7 L238.7,287.9 L250.9,287.1 L263.1,286.3 L275.3,285.5 L287.5,284.7 L300.4,283.8 L313.2,283.0 L326.0,282.1 L338.8,281.3 L351.3,281.8 L363.8,282.3 L376.4,282.8 L388.9,283.4 L401.4,283.9 L415.7,284.2 L429.9,284.6 L444.1,284.9 L455.8,285.1 L467.4,285.3 L479.1,285.6 L490.7,285.8 L502.4,286.0 L514.0,286.2 L525.7,286.4 L537.3,286.6 L548.9,286.8 L560.6,287.0 L572.2,287.3 L584.1,287.5 L596.0,287.7 L607.8,287.8 L619.7,288.0 L631.6,288.2 L643.4,288.4 L655.3,288.6 L667.1,288.8 L679.0,289.0 L690.9,289.2 L702.7,289.4 L714.6,289.6 L726.8,289.7 L739.0,289.8 L751.2,289.9 L763.4,290.0 L775.6,290.2 L787.8,290.3 L805.0,290.4 L805.0,314.0 L787.8,314.2 L775.6,314.4 L763.4,314.6 L751.2,314.8 L739.0,315.0 L726.8,315.2 L714.6,315.3 L702.7,315.6 L690.9,315.8 L679.0,316.0 L667.1,316.2 L655.3,316.4 L643.4,316.6 L631.6,316.9 L619.7,317.1 L607.8,317.3 L596.0,317.5 L584.1,317.7 L572.2,317.9 L560.6,318.1 L548.9,318.3 L537.3,318.5 L525.7,318.7 L514.0,318.9 L502.4,319.1 L490.7,319.3 L479.1,319.5 L467.4,319.6 L455.8,319.8 L444.1,320.0 L429.9,319.9 L415.7,319.8 L401.4,319.8 L388.9,319.7 L376.4,319.5 L363.8,319.4 L351.3,319.3 L338.8,319.2 L326.0,319.0 L313.2,318.8 L300.4,318.7 L287.5,318.5 L275.3,318.3 L263.1,318.1 L250.9,317.9 L238.7,317.7 L226.5,317.5 L214.3,317.3 L202.1,317.2 L190.7,317.0 L179.4,316.8 L168.0,316.6 L156.6,316.4 L145.2,316.2 L133.8,316.1 L122.4,315.9 L111.0,315.7 L99.6,315.5 L88.3,315.3 L75.6,315.2 L63.0,315.0 L50.4,314.8 L37.8,314.6 L25.2,314.4 L12.6,314.2 L-5.0,314.0 Z" fill="#cec236"/>
<path d="M-5.0,297.1 L12.6,296.9 L25.2,296.7 L37.8,296.5 L50.4,296.2 L63.0,296.0 L75.6,295.8 L88.3,295.6 L99.6,295.1 L111.0,294.7 L122.4,294.3 L133.8,293.8 L145.2,293.4 L156.6,292.9 L168.0,292.5 L179.4,292.0 L190.7,291.6 L202.1,291.2 L214.3,290.3 L226.5,289.5 L238.7,288.7 L250.9,287.9 L263.1,287.1 L275.3,286.3 L287.5,285.4 L300.4,284.6 L313.2,283.8 L326.0,282.9 L338.8,282.1 L351.3,282.6 L363.8,283.1 L376.4,283.6 L388.9,284.1 L401.4,284.7 L415.7,285.0 L429.9,285.4 L444.1,285.7 L455.8,285.9 L467.4,286.1 L479.1,286.3 L490.7,286.6 L502.4,286.8 L514.0,287.0 L525.7,287.2 L537.3,287.4 L548.9,287.6 L560.6,287.8 L572.2,288.0 L584.1,288.2 L596.0,288.4 L607.8,288.6 L619.7,288.8 L631.6,289.0 L643.4,289.2 L655.3,289.4 L667.1,289.6 L679.0,289.8 L690.9,290.0 L702.7,290.2 L714.6,290.4 L726.8,290.5 L739.0,290.6 L751.2,290.7 L763.4,290.8 L775.6,290.9 L787.8,291.0 L805.0,291.2 L805.0,313.3 L787.8,313.4 L775.6,313.6 L763.4,313.8 L751.2,314.0 L739.0,314.2 L726.8,314.4 L714.6,314.6 L702.7,314.8 L690.9,315.0 L679.0,315.2 L667.1,315.4 L655.3,315.6 L643.4,315.9 L631.6,316.1 L619.7,316.3 L607.8,316.5 L596.0,316.7 L584.1,316.9 L572.2,317.2 L560.6,317.3 L548.9,317.5 L537.3,317.7 L525.7,317.9 L514.0,318.1 L502.4,318.3 L490.7,318.5 L479.1,318.7 L467.4,318.9 L455.8,319.0 L444.1,319.2 L429.9,319.2 L415.7,319.1 L401.4,319.0 L388.9,318.9 L376.4,318.8 L363.8,318.7 L351.3,318.6 L338.8,318.5 L326.0,318.3 L313.2,318.1 L300.4,317.9 L287.5,317.7 L275.3,317.5 L263.1,317.3 L250.9,317.1 L238.7,316.9 L226.5,316.7 L214.3,316.6 L202.1,316.4 L190.7,316.2 L179.4,316.0 L168.0,315.8 L156.6,315.6 L145.2,315.5 L133.8,315.3 L122.4,315.1 L111.0,314.9 L99.6,314.7 L88.3,314.6 L75.6,314.4 L63.0,314.2 L50.4,314.0 L37.8,313.8 L25.2,313.6 L12.6,313.4 L-5.0,313.3 Z" fill="#f9fb0e"/>
<polygon points="382.6,313.0 400.6,313.0 396.6,323.0 391.6,327.5 386.6,323.0" fill="#f9fb0e"/>
</g>
<linearGradient id="mgc" gradientUnits="userSpaceOnUse" x1="0" y1="352.2530329289428" x2="0" y2="440.6412478336221"><stop offset="0" stop-color="#4057ef"/><stop offset="0.5" stop-color="#453ed8"/><stop offset="1" stop-color="#402eb8"/></linearGradient>
<g filter="url(#blur4)"><polygon points="399.1,352.3 377.1,440.6 421.1,440.6" fill="url(#mgc)"/>
<ellipse cx="399.1459074733096" cy="366.2530329289428" rx="7" ry="12" fill="#3c61f1" opacity="0.8"/></g>
<g filter="url(#blur4)">
<polygon points="313.5,-5.0 492.5,-5.0 399.1,251.8" fill="#4236c8"/>
<polygon points="329.5,-5.0 476.5,-5.0 399.1,241.8" fill="url(#conegc)"/>
<polyline points="334.5,-5.0 399.1,233.8 471.5,-5.0" fill="none" stroke="url(#coneEc)" stroke-width="12" stroke-linejoin="round"/>
</g>
<clipPath id="conecc"><polygon points="337.5,-5.0 468.5,-5.0 399.1,221.8"/></clipPath>
<g clip-path="url(#conecc)"><rect x="-300" y="-300" width="1400" height="1200" fill="#2c85f7" filter="url(#noisecb)" opacity="0.45" transform="rotate(35 400 300)"/></g>
<g filter="url(#blur1)">
<ellipse cx="399.1459074733096" cy="213.76776429809357" rx="12" ry="26" fill="#14b1d0" opacity="0.9"/>
<ellipse cx="400.1459074733096" cy="222.76776429809357" rx="8" ry="12" fill="#98c841"/>
<ellipse cx="399.1459074733096" cy="225.76776429809357" rx="5.5" ry="7" fill="#fdc933"/>
<ellipse cx="399.1459074733096" cy="226.76776429809357" rx="4" ry="5" fill="#f9fb0e"/>
</g>
<linearGradient id="conegc" gradientUnits="userSpaceOnUse" x1="0" y1="0" x2="0" y2="241.76776429809357"><stop offset="0" stop-color="#4643e3"/><stop offset="0.4" stop-color="#4057ef"/><stop offset="0.65" stop-color="#366ff5"/><stop offset="0.8" stop-color="#278bf3"/><stop offset="0.92" stop-color="#15a5e4"/><stop offset="1" stop-color="#15b6c5"/></linearGradient>
<linearGradient id="coneEc" gradientUnits="userSpaceOnUse" x1="0" y1="0" x2="0" y2="241.76776429809357"><stop offset="0" stop-color="#3473f6"/><stop offset="0.4" stop-color="#2988f5"/><stop offset="0.72" stop-color="#1e98eb"/><stop offset="0.88" stop-color="#14b1d0"/><stop offset="1" stop-color="#21c1a8"/></linearGradient>
</g>
<rect x="392.9" y="8.3" width="282.5" height="225.5" fill="none" stroke="#9a9a9a" stroke-width="1"/>
<line x1="392.9" y1="233.8" x2="395.9" y2="233.8" stroke="#9a9a9a"/>
<line x1="675.4" y1="233.8" x2="672.4" y2="233.8" stroke="#9a9a9a"/>
<text x="372.51" y="237.70" font-size="11" fill="#262626" font-family='"Liberation Sans", sans-serif' textLength="16.67" lengthAdjust="spacingAndGlyphs" >0.0</text>
<line x1="392.9" y1="201.6" x2="395.9" y2="201.6" stroke="#9a9a9a"/>
<line x1="675.4" y1="201.6" x2="672.4" y2="201.6" stroke="#9a9a9a"/>
<text x="372.61" y="205.49" font-size="11" fill="#262626" font-family='"Liberation Sans", sans-serif' textLength="16.67" lengthAdjust="spacingAndGlyphs" >0.2</text>
<line x1="392.9" y1="169.4" x2="395.9" y2="169.4" stroke="#9a9a9a"/>
<line x1="675.4" y1="169.4" x2="672.4" y2="169.4" stroke="#9a9a9a"/>
<text x="372.41" y="173.27" font-size="11" fill="#262626" font-family='"Liberation Sans", sans-serif' textLength="16.67" lengthAdjust="spacingAndGlyphs" >0.4</text>
<line x1="392.9" y1="137.2" x2="395.9" y2="137.2" stroke="#9a9a9a"/>
<line x1="675.4" y1="137.2" x2="672.4" y2="137.2" stroke="#9a9a9a"/>
<text x="372.61" y="141.06" font-size="11" fill="#262626" font-family='"Liberation Sans", sans-serif' textLength="16.67" lengthAdjust="spacingAndGlyphs" >0.6</text>
<line x1="392.9" y1="104.9" x2="395.9" y2="104.9" stroke="#9a9a9a"/>
<line x1="675.4" y1="104.9" x2="672.4" y2="104.9" stroke="#9a9a9a"/>
<text x="372.51" y="108.84" font-size="11" fill="#262626" font-family='"Liberation Sans", sans-serif' textLength="16.67" lengthAdjust="spacingAndGlyphs" >0.8</text>
<line x1="392.9" y1="72.7" x2="395.9" y2="72.7" stroke="#9a9a9a"/>
<line x1="675.4" y1="72.7" x2="672.4" y2="72.7" stroke="#9a9a9a"/>
<text x="372.51" y="76.63" font-size="11" fill="#262626" font-family='"Liberation Sans", sans-serif' textLength="16.67" lengthAdjust="spacingAndGlyphs" >1.0</text>
<line x1="392.9" y1="40.5" x2="395.9" y2="40.5" stroke="#9a9a9a"/>
<line x1="675.4" y1="40.5" x2="672.4" y2="40.5" stroke="#9a9a9a"/>
<text x="372.61" y="44.41" font-size="11" fill="#262626" font-family='"Liberation Sans", sans-serif' textLength="16.67" lengthAdjust="spacingAndGlyphs" >1.2</text>
<line x1="392.9" y1="8.3" x2="395.9" y2="8.3" stroke="#9a9a9a"/>
<line x1="675.4" y1="8.3" x2="672.4" y2="8.3" stroke="#9a9a9a"/>
<text x="372.41" y="12.20" font-size="11" fill="#262626" font-family='"Liberation Sans", sans-serif' textLength="16.67" lengthAdjust="spacingAndGlyphs" >1.4</text>
<line x1="392.9" y1="233.8" x2="392.9" y2="230.8" stroke="#9a9a9a"/>
<line x1="392.9" y1="8.3" x2="392.9" y2="11.3" stroke="#9a9a9a"/>
<text x="384.12" y="246.00" font-size="11" fill="#262626" font-family='"Liberation Sans", sans-serif' textLength="17.13" lengthAdjust="spacingAndGlyphs" >1.0</text>
<line x1="433.3" y1="233.8" x2="433.3" y2="230.8" stroke="#9a9a9a"/>
<line x1="433.3" y1="8.3" x2="433.3" y2="11.3" stroke="#9a9a9a"/>
<text x="424.53" y="246.00" font-size="11" fill="#262626" font-family='"Liberation Sans", sans-serif' textLength="17.13" lengthAdjust="spacingAndGlyphs" >1.2</text>
<line x1="473.6" y1="233.8" x2="473.6" y2="230.8" stroke="#9a9a9a"/>
<line x1="473.6" y1="8.3" x2="473.6" y2="11.3" stroke="#9a9a9a"/>
<text x="464.78" y="246.00" font-size="11" fill="#262626" font-family='"Liberation Sans", sans-serif' textLength="17.13" lengthAdjust="spacingAndGlyphs" >1.4</text>
<line x1="514.0" y1="233.8" x2="514.0" y2="230.8" stroke="#9a9a9a"/>
<line x1="514.0" y1="8.3" x2="514.0" y2="11.3" stroke="#9a9a9a"/>
<text x="505.24" y="246.00" font-size="11" fill="#262626" font-family='"Liberation Sans", sans-serif' textLength="17.13" lengthAdjust="spacingAndGlyphs" >1.6</text>
<line x1="554.3" y1="233.8" x2="554.3" y2="230.8" stroke="#9a9a9a"/>
<line x1="554.3" y1="8.3" x2="554.3" y2="11.3" stroke="#9a9a9a"/>
<text x="545.55" y="246.00" font-size="11" fill="#262626" font-family='"Liberation Sans", sans-serif' textLength="17.13" lengthAdjust="spacingAndGlyphs" >1.8</text>
<line x1="594.7" y1="233.8" x2="594.7" y2="230.8" stroke="#9a9a9a"/>
<line x1="594.7" y1="8.3" x2="594.7" y2="11.3" stroke="#9a9a9a"/>
<text x="586.06" y="246.00" font-size="11" fill="#262626" font-family='"Liberation Sans", sans-serif' textLength="17.13" lengthAdjust="spacingAndGlyphs" >2.0</text>
<line x1="635.0" y1="233.8" x2="635.0" y2="230.8" stroke="#9a9a9a"/>
<line x1="635.0" y1="8.3" x2="635.0" y2="11.3" stroke="#9a9a9a"/>
<text x="626.47" y="246.00" font-size="11" fill="#262626" font-family='"Liberation Sans", sans-serif' textLength="17.13" lengthAdjust="spacingAndGlyphs" >2.2</text>
<line x1="675.4" y1="233.8" x2="675.4" y2="230.8" stroke="#9a9a9a"/>
<line x1="675.4" y1="8.3" x2="675.4" y2="11.3" stroke="#9a9a9a"/>
<text x="666.72" y="246.00" font-size="11" fill="#262626" font-family='"Liberation Sans", sans-serif' textLength="17.13" lengthAdjust="spacingAndGlyphs" >2.4</text>
<text x="527.8" y="259.9" font-size="13.6" text-anchor="middle" fill="#1a1a1a" font-family='"Liberation Sans", sans-serif' >Creation intensity (arb. units)</text>
<text transform="translate(364.4,121) rotate(-90)" font-size="13.7" text-anchor="middle" fill="#1a1a1a" font-family='"Liberation Sans", sans-serif'>Annihilation intensity (arb. units)</text>
<circle cx="671" cy="27" r="3.1" fill="#3fa535"/>
<circle cx="649.4" cy="44.2" r="3.1" fill="#3fa535"/>
<circle cx="627.9" cy="61.2" r="3.1" fill="#3fa535"/>
<circle cx="562.7" cy="105.4" r="3.1" fill="#3fa535"/>
<circle cx="524" cy="136.4" r="3.1" fill="#3fa535"/>
<circle cx="470.8" cy="171.8" r="3.1" fill="#3fa535"/>
<circle cx="437.8" cy="197.9" r="3.1" fill="#3fa535"/>
<circle cx="423.4" cy="209.7" r="3.1" fill="#3fa535"/>
<circle cx="412.6" cy="217.5" r="3.1" fill="#3fa535"/>
<circle cx="407" cy="222.2" r="3.1" fill="#3fa535"/>
<circle cx="405" cy="223.5" r="3.1" fill="#3fa535"/>
<circle cx="403" cy="225" r="3.1" fill="#3fa535"/>
<circle cx="401.3" cy="226.3" r="3.1" fill="#3fa535"/>
<line x1="651.1" y1="27.8" x2="660.9" y2="27.8" stroke="#0808ff" stroke-width="1.4"/>
<line x1="651.1" y1="25.8" x2="651.1" y2="29.8" stroke="#0808ff" stroke-width="1.5"/>
<line x1="660.9" y1="25.8" x2="660.9" y2="29.8" stroke="#0808ff" stroke-width="1.5"/>
<rect x="653.0" y="24.8" width="6" height="6" rx="0.8" fill="#0808ff"/>
<rect x="654.4" y="26.5" width="3.2" height="0.7" fill="#6a6aff"/>
<rect x="654.4" y="28.4" width="3.2" height="0.7" fill="#6a6aff"/>
<line x1="556.2" y1="99.9" x2="565.8" y2="99.9" stroke="#0808ff" stroke-width="1.4"/>
<line x1="556.2" y1="97.9" x2="556.2" y2="101.9" stroke="#0808ff" stroke-width="1.5"/>
<line x1="565.8" y1="97.9" x2="565.8" y2="101.9" stroke="#0808ff" stroke-width="1.5"/>
<rect x="558.0" y="96.9" width="6" height="6" rx="0.8" fill="#0808ff"/>
<rect x="559.4" y="98.6" width="3.2" height="0.7" fill="#6a6aff"/>
<rect x="559.4" y="100.5" width="3.2" height="0.7" fill="#6a6aff"/>
<line x1="480.7" y1="161.0" x2="489.3" y2="161.0" stroke="#0808ff" stroke-width="1.4"/>
<line x1="480.7" y1="159.0" x2="480.7" y2="163.0" stroke="#0808ff" stroke-width="1.5"/>
<line x1="489.3" y1="159.0" x2="489.3" y2="163.0" stroke="#0808ff" stroke-width="1.5"/>
<rect x="482.0" y="158.0" width="6" height="6" rx="0.8" fill="#0808ff"/>
<rect x="483.4" y="159.7" width="3.2" height="0.7" fill="#6a6aff"/>
<rect x="483.4" y="161.6" width="3.2" height="0.7" fill="#6a6aff"/>
<line x1="434.6" y1="196.5" x2="443.4" y2="196.5" stroke="#0808ff" stroke-width="1.4"/>
<line x1="434.6" y1="194.5" x2="434.6" y2="198.5" stroke="#0808ff" stroke-width="1.5"/>
<line x1="443.4" y1="194.5" x2="443.4" y2="198.5" stroke="#0808ff" stroke-width="1.5"/>
<rect x="436.0" y="193.5" width="6" height="6" rx="0.8" fill="#0808ff"/>
<rect x="437.4" y="195.2" width="3.2" height="0.7" fill="#6a6aff"/>
<rect x="437.4" y="197.1" width="3.2" height="0.7" fill="#6a6aff"/>
<rect x="409.4" y="216.9" width="6.2" height="6.2" fill="#0808ff"/>
<text x="610.2" y="28.4" font-size="12.2" text-anchor="start" fill="#1414f0" font-family='"Liberation Sans", sans-serif' >~16 K</text>
<text x="569.7" y="106.6" font-size="12.2" text-anchor="start" fill="#1414f0" font-family='"Liberation Sans", sans-serif' >~10 K</text>
<text x="493.5" y="165.6" font-size="12.2" text-anchor="start" fill="#1414f0" font-family='"Liberation Sans", sans-serif' >~8 K</text>
<text x="447.1" y="199.8" font-size="12.2" text-anchor="start" fill="#1414f0" font-family='"Liberation Sans", sans-serif' >~6 K</text>
<text x="420.0" y="225.0" font-size="12.1" text-anchor="start" fill="#1414f0" font-family='"Liberation Sans", sans-serif' >~3.6 K</text>
<rect x="413.4" y="18.1" width="105.5" height="25.1" fill="#fff" stroke="#8a8a8a" stroke-width="0.8"/>
<circle cx="420.4" cy="24.8" r="1.9" fill="#3fa535"/>
<rect x="419" y="35.1" width="3" height="3" fill="none" stroke="#0808ff" stroke-width="1"/>
<text x="426.9" y="28.1" font-size="10.6" text-anchor="start" fill="#262626" font-family='"Liberation Sans", sans-serif' >Model</text>
<text x="426.9" y="39.7" font-size="10.85" text-anchor="start" fill="#262626" font-family='"Liberation Sans", sans-serif' >Exp. at equilibrium</text>
<text x="411.60" y="68.40" font-size="12" fill="#ff1414" font-family='"Liberation Sans", sans-serif' textLength="61.54" lengthAdjust="spacingAndGlyphs" >Annihilation</text>
<path d="M486.20,63.65 C482.90,63.65 481.60,68.15 479.90,68.15 C478.50,68.15 478.35,67.00 478.35,65.90 C478.35,64.80 478.50,63.65 479.90,63.65 C481.60,63.65 482.90,68.15 486.20,68.15" fill="none" stroke="#ff1414" stroke-width="0.95"/>
<text x="489.26" y="68.40" font-size="12" fill="#ff1414" font-family='"Liberation Sans", sans-serif' textLength="7.85" lengthAdjust="spacingAndGlyphs" >n</text>
<text x="496.16" y="62.60" font-size="8.2" fill="#ff1414" font-family='"Liberation Sans", sans-serif' textLength="13.47" lengthAdjust="spacingAndGlyphs" >BE</text>
<text x="509.78" y="68.40" font-size="12" fill="#ff1414" font-family='"Liberation Sans", sans-serif' textLength="15.76" lengthAdjust="spacingAndGlyphs" >(T)</text>
<text x="411.00" y="83.20" font-size="12" fill="#ff1414" font-family='"Liberation Sans", sans-serif' textLength="45.05" lengthAdjust="spacingAndGlyphs" >Creation</text>
<path d="M469.40,78.45 C466.00,78.45 464.70,82.95 463.00,82.95 C461.60,82.95 461.45,81.80 461.45,80.70 C461.45,79.60 461.60,78.45 463.00,78.45 C464.70,78.45 466.00,82.95 469.40,82.95" fill="none" stroke="#ff1414" stroke-width="0.95"/>
<text x="472.66" y="83.20" font-size="12" fill="#ff1414" font-family='"Liberation Sans", sans-serif' textLength="7.85" lengthAdjust="spacingAndGlyphs" >n</text>
<text x="479.16" y="77.40" font-size="8.2" fill="#ff1414" font-family='"Liberation Sans", sans-serif' textLength="13.47" lengthAdjust="spacingAndGlyphs" >BE</text>
<text x="492.81" y="83.20" font-size="12" fill="#ff1414" font-family='"Liberation Sans", sans-serif' textLength="28.59" lengthAdjust="spacingAndGlyphs" >(T)+1</text>
<text x="343.8" y="22.6" font-size="18.5" text-anchor="start" fill="#111" font-family='"Liberation Sans", sans-serif' >b</text>
<text x="355.7" y="20.9" font-size="18.2" text-anchor="start" fill="#111" font-family='"Liberation Sans", sans-serif' >)</text>
<rect x="390.5" y="278.6" width="286.1" height="218.0" fill="none" stroke="#9a9a9a" stroke-width="1"/>
<line x1="390.5" y1="496.6" x2="393.5" y2="496.6" stroke="#9a9a9a"/>
<line x1="676.6" y1="496.6" x2="673.6" y2="496.6" stroke="#9a9a9a"/>
<text x="386.0" y="501.2" font-size="13" text-anchor="end" fill="#262626" font-family='"Liberation Sans", sans-serif' >0</text>
<line x1="390.5" y1="453.0" x2="393.5" y2="453.0" stroke="#9a9a9a"/>
<line x1="676.6" y1="453.0" x2="673.6" y2="453.0" stroke="#9a9a9a"/>
<text x="386.0" y="457.6" font-size="13" text-anchor="end" fill="#262626" font-family='"Liberation Sans", sans-serif' >0.01</text>
<line x1="390.5" y1="409.4" x2="393.5" y2="409.4" stroke="#9a9a9a"/>
<line x1="676.6" y1="409.4" x2="673.6" y2="409.4" stroke="#9a9a9a"/>
<text x="386.0" y="414.0" font-size="13" text-anchor="end" fill="#262626" font-family='"Liberation Sans", sans-serif' >0.02</text>
<line x1="390.5" y1="365.8" x2="393.5" y2="365.8" stroke="#9a9a9a"/>
<line x1="676.6" y1="365.8" x2="673.6" y2="365.8" stroke="#9a9a9a"/>
<text x="386.0" y="370.4" font-size="13" text-anchor="end" fill="#262626" font-family='"Liberation Sans", sans-serif' >0.03</text>
<line x1="390.5" y1="322.2" x2="393.5" y2="322.2" stroke="#9a9a9a"/>
<line x1="676.6" y1="322.2" x2="673.6" y2="322.2" stroke="#9a9a9a"/>
<text x="386.0" y="326.8" font-size="13" text-anchor="end" fill="#262626" font-family='"Liberation Sans", sans-serif' >0.04</text>
<line x1="390.5" y1="278.6" x2="393.5" y2="278.6" stroke="#9a9a9a"/>
<line x1="676.6" y1="278.6" x2="673.6" y2="278.6" stroke="#9a9a9a"/>
<text x="386.0" y="283.2" font-size="13" text-anchor="end" fill="#262626" font-family='"Liberation Sans", sans-serif' >0.05</text>
<line x1="390.3" y1="496.6" x2="390.3" y2="493.6" stroke="#9a9a9a"/>
<line x1="390.3" y1="278.6" x2="390.3" y2="281.6" stroke="#9a9a9a"/>
<text x="390.3" y="514.2" font-size="13" text-anchor="middle" fill="#262626" font-family='"Liberation Sans", sans-serif' >-2</text>
<line x1="461.8" y1="496.6" x2="461.8" y2="493.6" stroke="#9a9a9a"/>
<line x1="461.8" y1="278.6" x2="461.8" y2="281.6" stroke="#9a9a9a"/>
<text x="461.8" y="514.2" font-size="13" text-anchor="middle" fill="#262626" font-family='"Liberation Sans", sans-serif' >-1</text>
<line x1="533.4" y1="496.6" x2="533.4" y2="493.6" stroke="#9a9a9a"/>
<line x1="533.4" y1="278.6" x2="533.4" y2="281.6" stroke="#9a9a9a"/>
<text x="533.4" y="514.2" font-size="13" text-anchor="middle" fill="#262626" font-family='"Liberation Sans", sans-serif' >0</text>
<line x1="604.9" y1="496.6" x2="604.9" y2="493.6" stroke="#9a9a9a"/>
<line x1="604.9" y1="278.6" x2="604.9" y2="281.6" stroke="#9a9a9a"/>
<text x="604.9" y="514.2" font-size="13" text-anchor="middle" fill="#262626" font-family='"Liberation Sans", sans-serif' >1</text>
<line x1="676.5" y1="496.6" x2="676.5" y2="493.6" stroke="#9a9a9a"/>
<line x1="676.5" y1="278.6" x2="676.5" y2="281.6" stroke="#9a9a9a"/>
<text x="676.5" y="514.2" font-size="13" text-anchor="middle" fill="#262626" font-family='"Liberation Sans", sans-serif' >2</text>
<text x="535.4" y="530.5" font-size="14.2" text-anchor="middle" fill="#1a1a1a" font-family='"Liberation Sans", sans-serif' >E (meV)</text>
<text transform="translate(353.8,381.7) rotate(-90)" font-size="13.8" text-anchor="middle" fill="#1a1a1a" font-family='"Liberation Sans", sans-serif'>Intensity (arb. units)</text>
<text x="341.4" y="285.0" font-size="18.5" text-anchor="start" fill="#111" font-family='"Liberation Sans", sans-serif' >d</text>
<text x="352.9" y="283.3" font-size="18.2" text-anchor="start" fill="#111" font-family='"Liberation Sans", sans-serif' >)</text>
<clipPath id="dclip"><rect x="390.5" y="278.6" width="286.1" height="218.0"/></clipPath>
<g clip-path="url(#dclip)">
<polyline points="390.0,494.2 432.2,493.7 452.0,489.2 464.5,485.5 474.4,481.3 481.8,478.0 489.3,484.2 496.7,491.7 502.9,493.5 507.9,495.4 511.0,494.0 514.1,486.7 516.6,454.5 518.3,404.8 519.2,380.0 520.5,278.0 522.0,180.0 541.3,180.0 542.7,278.0 544.5,380.0 545.7,459.5 551.4,484.5 555.9,492.5 560.5,492.5 565.0,486.8 570.7,466.4 575.2,425.5 578.5,370.0 580.9,320.5 584.3,304.5 588.9,297.7 592.3,300.0 595.0,305.0 599.0,309.1 610.0,316.0 620.5,327.0 628.4,338.0 636.2,353.0 644.1,367.0 652.0,382.7 658.2,395.9 667.3,405.0 676.4,423.2" fill="none" stroke="#1a1aff" stroke-width="1.6" stroke-dasharray="5,3.5"/>
<polyline points="390.1,493.6 400.1,493.9 414.9,492.4 425.1,492.9 432.3,492.2 439.7,486.1 452.1,482.2 459.6,480.8 469.5,472.2 477.0,465.5 481.9,466.0 485.7,469.9 491.9,485.7 496.8,490.9 503.0,493.9 508.0,496.0 511.1,494.6 514.2,487.3 516.7,455.1 518.7,405.4 519.7,380.6 521.1,278.6 522.7,180.6 540.9,180.6 542.3,278.6 543.5,380.6 544.2,426.1 545.8,471.5 550.3,487.4 556.0,495.4 560.6,496.5 565.1,492.0 569.6,476.1 574.2,437.4 576.5,400.6 579.9,350.6 583.3,315.5 585.6,305.5 589.0,302.7 592.4,298.4 595.8,304.7 600.3,305.6 603.7,308.5 607.1,322.9 612.8,323.6 618.5,327.9 621.9,331.1 626.5,344.8 633.3,355.0 640.1,371.7 642.4,381.7 646.9,392.6 651.5,399.5 656.0,408.3 667.4,413.2 676.5,427.0" fill="none" stroke="#0072bd" stroke-width="1.7" stroke-linejoin="round"/>
<polyline points="390.0,494.3 400.0,493.7 414.8,490.5 425.0,490.4 432.2,489.8 439.6,487.4 452.0,482.2 459.5,479.1 469.4,471.1 476.9,465.0 481.8,463.1 485.6,468.4 491.8,483.8 496.7,490.0 502.9,493.4 507.9,494.8 511.0,493.4 514.1,486.1 516.6,453.9 518.6,404.2 519.6,379.4 521.0,277.4 522.6,179.4 540.8,179.4 542.2,277.4 543.4,379.4 544.1,424.9 545.7,470.3 550.2,486.2 555.9,494.2 560.5,495.3 565.0,490.8 569.5,474.9 574.1,436.2 576.4,399.4 579.8,349.4 583.2,315.8 585.5,305.1 588.9,301.5 592.3,298.5 595.7,303.3 600.2,300.0 603.6,309.5 607.0,322.3 612.7,323.2 618.4,323.5 621.8,337.8 626.4,341.8 633.2,354.8 640.0,370.1 642.3,378.8 646.8,389.6 651.4,398.1 655.9,405.8 667.3,410.0 676.4,426.8" fill="none" stroke="#ff1a1a" stroke-width="1.7" stroke-linejoin="round"/>
<polyline points="389.9,493.7 399.9,492.5 414.7,491.9 424.9,493.1 432.1,492.5 439.5,485.7 451.9,483.6 459.4,478.3 469.3,473.2 476.8,465.4 481.7,465.4 485.5,471.0 491.7,484.5 496.6,492.1 502.8,492.7 507.8,495.7 510.9,494.3 514.0,487.0 516.5,454.8 518.5,405.1 519.5,380.3 520.9,278.3 522.5,180.3 540.7,180.3 542.1,278.3 543.3,380.3 544.0,425.8 545.6,471.2 550.1,487.1 555.8,495.1 560.4,496.2 564.9,491.7 569.4,475.8 574.0,437.1 576.3,400.3 579.7,350.3 583.1,315.0 585.4,305.1 588.8,300.1 592.2,297.2 595.6,303.4 600.1,305.1 603.5,308.4 606.9,307.6 612.6,318.0 618.3,323.7 621.7,333.4 626.3,344.6 633.1,354.5 639.9,370.7 642.2,380.4 646.7,392.1 651.3,398.3 655.8,405.5 667.2,412.4 676.3,428.1" fill="none" stroke="#edb120" stroke-width="1.7" stroke-linejoin="round"/>
<polyline points="390.0,493.7 400.0,493.0 414.8,492.8 425.0,491.3 432.2,490.6 439.6,488.0 452.0,483.1 459.5,479.4 469.4,470.9 476.9,465.4 481.8,464.2 485.6,468.1 491.8,484.5 496.7,490.8 502.9,491.7 507.9,495.4 511.0,494.0 514.1,486.7 516.6,454.5 518.6,404.8 519.6,380.0 521.0,278.0 522.6,180.0 540.8,180.0 542.2,278.0 543.4,380.0 544.1,425.5 545.7,470.9 550.2,486.8 555.9,494.8 560.5,495.9 565.0,491.4 569.5,475.5 574.1,436.8 576.4,400.0 579.8,350.0 583.2,316.3 585.5,304.4 588.9,301.6 592.3,297.3 595.7,304.0 600.2,305.2 603.6,307.8 607.0,320.4 612.7,323.2 618.4,325.2 621.8,331.1 626.4,343.1 633.2,354.8 640.0,370.0 642.3,379.6 646.8,390.9 651.4,397.3 655.9,405.3 667.3,411.2 676.4,426.3" fill="none" stroke="#7e2f8e" stroke-width="1.7" stroke-linejoin="round"/>
</g>
<line x1="588.9" y1="286.4" x2="588.9" y2="304.5" stroke="#ff00ff" stroke-width="1.1"/>
<line x1="586.6999999999999" y1="286.4" x2="591.1" y2="286.4" stroke="#ff00ff" stroke-width="1.1"/>
<line x1="586.6999999999999" y1="304.5" x2="591.1" y2="304.5" stroke="#ff00ff" stroke-width="1.1"/>
<line x1="592.3" y1="292" x2="592.3" y2="304.5" stroke="#00e5ff" stroke-width="1.1"/>
<line x1="590.0999999999999" y1="292" x2="594.5" y2="292" stroke="#00e5ff" stroke-width="1.1"/>
<line x1="590.0999999999999" y1="304.5" x2="594.5" y2="304.5" stroke="#00e5ff" stroke-width="1.1"/>
<line x1="592.7" y1="290" x2="592.7" y2="300" stroke="#1a1aff" stroke-width="1.1"/>
<line x1="590.5" y1="290" x2="594.9000000000001" y2="290" stroke="#1a1aff" stroke-width="1.1"/>
<line x1="590.5" y1="300" x2="594.9000000000001" y2="300" stroke="#1a1aff" stroke-width="1.1"/>
<line x1="592.7" y1="281.4" x2="592.7" y2="299" stroke="#111" stroke-width="1.1"/>
<line x1="590.5" y1="281.4" x2="594.9000000000001" y2="281.4" stroke="#111" stroke-width="1.1"/>
<line x1="590.5" y1="299" x2="594.9000000000001" y2="299" stroke="#111" stroke-width="1.1"/>
<line x1="481.5" y1="458.5" x2="481.5" y2="466.5" stroke="#ff00ff" stroke-width="1.1"/>
<line x1="479.3" y1="458.5" x2="483.7" y2="458.5" stroke="#ff00ff" stroke-width="1.1"/>
<line x1="479.3" y1="466.5" x2="483.7" y2="466.5" stroke="#ff00ff" stroke-width="1.1"/>
<line x1="482.5" y1="457.5" x2="482.5" y2="462" stroke="#00e5ff" stroke-width="1.1"/>
<line x1="480.3" y1="457.5" x2="484.7" y2="457.5" stroke="#00e5ff" stroke-width="1.1"/>
<line x1="480.3" y1="462" x2="484.7" y2="462" stroke="#00e5ff" stroke-width="1.1"/>
<line x1="479.5" y1="459" x2="479.5" y2="467" stroke="#111" stroke-width="1.1"/>
<line x1="477.3" y1="459" x2="481.7" y2="459" stroke="#111" stroke-width="1.1"/>
<line x1="477.3" y1="467" x2="481.7" y2="467" stroke="#111" stroke-width="1.1"/>
<line x1="481.8" y1="476" x2="481.8" y2="480.5" stroke="#1a1aff" stroke-width="1.1"/>
<line x1="479.6" y1="476" x2="484.0" y2="476" stroke="#1a1aff" stroke-width="1.1"/>
<line x1="479.6" y1="480.5" x2="484.0" y2="480.5" stroke="#1a1aff" stroke-width="1.1"/>
<rect x="397.3" y="285.3" width="114.5" height="75.3" fill="#fff" stroke="#8a8a8a" stroke-width="0.8"/>
<line x1="400.5" y1="295" x2="419.3" y2="295" stroke="#1a1aff" stroke-width="1.6" stroke-dasharray="6,5.5"/>
<line x1="400" y1="309.4" x2="419.3" y2="309.4" stroke="#0072bd" stroke-width="1.5"/>
<line x1="400" y1="323.9" x2="419.3" y2="323.9" stroke="#ff1a1a" stroke-width="1.5"/>
<line x1="400" y1="338.3" x2="419.3" y2="338.3" stroke="#edb120" stroke-width="1.5"/>
<line x1="400" y1="352.8" x2="419.3" y2="352.8" stroke="#7e2f8e" stroke-width="1.5"/>
<text x="422.2" y="299.2" font-size="11.8" text-anchor="start" fill="#262626" font-family='"Liberation Sans", sans-serif' >3.6K equilibrium</text>
<text x="422.2" y="313.6" font-size="11.8" text-anchor="start" fill="#262626" font-family='"Liberation Sans", sans-serif' >Frame 1</text>
<text x="422.2" y="328.1" font-size="11.8" text-anchor="start" fill="#262626" font-family='"Liberation Sans", sans-serif' >Frame 2</text>
<text x="422.2" y="342.5" font-size="11.8" text-anchor="start" fill="#262626" font-family='"Liberation Sans", sans-serif' >Frame 3</text>
<text x="422.2" y="357.0" font-size="11.8" text-anchor="start" fill="#262626" font-family='"Liberation Sans", sans-serif' >Frame 4</text>
<text x="402.6" y="402.8" font-size="18.2" fill="#111" font-family='"Liberation Sans", sans-serif'><tspan font-style="italic">N</tspan> = 30</text>
<text x="403.4" y="424.7" font-size="18.2" fill="#111" font-family='"Liberation Sans", sans-serif'><tspan font-style="italic">j</tspan> = 4</text>
<text x="402.5" y="446.2" font-size="18.2" fill="#111" font-family='"Liberation Sans", sans-serif'><tspan font-style="italic">P</tspan> = 51.7ms</text>
<text x="35.8" y="12.1" font-size="13.5" text-anchor="end" fill="#262626" font-family='"Liberation Sans", sans-serif' >3</text>
<text x="35.8" y="49.3" font-size="13.5" text-anchor="end" fill="#262626" font-family='"Liberation Sans", sans-serif' >2</text>
<text x="35.8" y="86.5" font-size="13.5" text-anchor="end" fill="#262626" font-family='"Liberation Sans", sans-serif' >1</text>
<text x="35.8" y="123.7" font-size="13.5" text-anchor="end" fill="#262626" font-family='"Liberation Sans", sans-serif' >0</text>
<text x="35.8" y="161.0" font-size="13.5" text-anchor="end" fill="#262626" font-family='"Liberation Sans", sans-serif' >-1</text>
<text x="35.8" y="198.2" font-size="13.5" text-anchor="end" fill="#262626" font-family='"Liberation Sans", sans-serif' >-2</text>
<text x="35.8" y="235.4" font-size="13.5" text-anchor="end" fill="#262626" font-family='"Liberation Sans", sans-serif' >-3</text>
<text x="77.4" y="248.8" font-size="13.3" text-anchor="middle" fill="#262626" font-family='"Liberation Sans", sans-serif' >0.2</text>
<text x="150.9" y="248.8" font-size="13.3" text-anchor="middle" fill="#262626" font-family='"Liberation Sans", sans-serif' >0.4</text>
<text x="224.5" y="248.8" font-size="13.3" text-anchor="middle" fill="#262626" font-family='"Liberation Sans", sans-serif' >0.6</text>
<text x="298.0" y="248.8" font-size="13.3" text-anchor="middle" fill="#262626" font-family='"Liberation Sans", sans-serif' >0.8</text>
<text x="152.65" y="265.90" font-size="14.2" fill="#1a1a1a" font-family='"Liberation Sans", sans-serif' textLength="69.11" lengthAdjust="spacingAndGlyphs" >H in [HHL]</text>
<text transform="translate(16.2,118.75) rotate(-90)" font-size="14" text-anchor="middle" fill="#1a1a1a" font-family='"Liberation Sans", sans-serif' textLength="62.8" lengthAdjust="spacingAndGlyphs">ΔE (meV)</text>
<text x="-2.2" y="22.6" font-size="18.5" text-anchor="start" fill="#111" font-family='"Liberation Sans", sans-serif' >a</text>
<text x="10.3" y="20.9" font-size="18.2" text-anchor="start" fill="#111" font-family='"Liberation Sans", sans-serif' >)</text>
<text x="44.2" y="282.3" font-size="13.5" text-anchor="end" fill="#262626" font-family='"Liberation Sans", sans-serif' >3</text>
<text x="44.2" y="320.8" font-size="13.5" text-anchor="end" fill="#262626" font-family='"Liberation Sans", sans-serif' >2</text>
<text x="44.2" y="359.2" font-size="13.5" text-anchor="end" fill="#262626" font-family='"Liberation Sans", sans-serif' >1</text>
<text x="44.2" y="397.7" font-size="13.5" text-anchor="end" fill="#262626" font-family='"Liberation Sans", sans-serif' >0</text>
<text x="44.2" y="436.2" font-size="13.5" text-anchor="end" fill="#262626" font-family='"Liberation Sans", sans-serif' >-1</text>
<text x="44.2" y="474.6" font-size="13.5" text-anchor="end" fill="#262626" font-family='"Liberation Sans", sans-serif' >-2</text>
<text x="44.2" y="513.1" font-size="13.5" text-anchor="end" fill="#262626" font-family='"Liberation Sans", sans-serif' >-3</text>
<text x="84.1" y="526.5" font-size="13.3" text-anchor="middle" fill="#262626" font-family='"Liberation Sans", sans-serif' >0.2</text>
<text x="154.4" y="526.5" font-size="13.3" text-anchor="middle" fill="#262626" font-family='"Liberation Sans", sans-serif' >0.4</text>
<text x="224.6" y="526.5" font-size="13.3" text-anchor="middle" fill="#262626" font-family='"Liberation Sans", sans-serif' >0.6</text>
<text x="294.9" y="526.5" font-size="13.3" text-anchor="middle" fill="#262626" font-family='"Liberation Sans", sans-serif' >0.8</text>
<text x="152.58" y="544.20" font-size="14.2" fill="#1a1a1a" font-family='"Liberation Sans", sans-serif' textLength="72.93" lengthAdjust="spacingAndGlyphs" >H in [HHL]</text>
<text transform="translate(25.5,392.2) rotate(-90)" font-size="15.3" text-anchor="middle" fill="#1a1a1a" font-family='"Liberation Sans", sans-serif' textLength="66.3" lengthAdjust="spacingAndGlyphs">ΔE (meV)</text>
<text x="0.4" y="285.2" font-size="18.5" text-anchor="start" fill="#111" font-family='"Liberation Sans", sans-serif' >c</text>
<text x="10.5" y="283.3" font-size="18.2" text-anchor="start" fill="#111" font-family='"Liberation Sans", sans-serif' >)</text>
<rect x="236.4" y="229.3" width="3" height="1.3" fill="#c8c8d8"/>
<rect x="247.5" y="229.3" width="3" height="1.3" fill="#c8c8d8"/>
<rect x="254.2" y="229.3" width="3" height="1.3" fill="#c8c8d8"/>
<rect x="269.0" y="229.3" width="3" height="1.3" fill="#c8c8d8"/>
<rect x="236.5" y="507.0" width="3" height="1.3" fill="#c8c8d8"/>
<rect x="247.0" y="507.0" width="3" height="1.3" fill="#c8c8d8"/>
<rect x="253.0" y="507.0" width="3" height="1.3" fill="#c8c8d8"/>
<rect x="267.0" y="507.0" width="3" height="1.3" fill="#c8c8d8"/>
<text x="236.30" y="74.60" font-size="17" fill="#ffffff" font-family='"Liberation Sans", sans-serif' textLength="68.24" lengthAdjust="spacingAndGlyphs" >Creation</text>
<text x="247.3" y="98.2" font-size="19.5" fill="#ffffff" font-family='"Liberation Serif", serif'>Δ</text><text x="259.0" y="98.2" font-size="19.5" font-style="italic" fill="#ffffff" font-family='"Liberation Serif", serif'>E</text><text x="297.4" y="98.2" font-size="19" fill="#ffffff" font-family='"Liberation Serif", serif'>0</text><polyline points="279.4,87.3 290.9,92.5 279.4,97.7" fill="none" stroke="#ffffff" stroke-width="1.35"/>
<text x="215.60" y="175.30" font-size="17" fill="#ffffff" font-family='"Liberation Sans", sans-serif' textLength="93.92" lengthAdjust="spacingAndGlyphs" >Annihilation</text>
<text x="239.3" y="199.2" font-size="19.5" fill="#ffffff" font-family='"Liberation Serif", serif'>Δ</text><text x="250.6" y="199.2" font-size="19.5" font-style="italic" fill="#ffffff" font-family='"Liberation Serif", serif'>E</text><text x="289.4" y="199.2" font-size="19" fill="#ffffff" font-family='"Liberation Serif", serif'>0</text><polyline points="282.4,188.3 270.9,193.6 282.4,198.9" fill="none" stroke="#ffffff" stroke-width="1.35"/>
<text x="49.13" y="218.90" font-size="17.5" fill="#ffffff" font-family='"Liberation Sans", sans-serif' textLength="152.94" lengthAdjust="spacingAndGlyphs" >Equilibrium at 3.6 K</text>
<text x="53.0" y="473.9" font-size="18.4" text-anchor="start" fill="#ffffff" font-family='"Liberation Sans", sans-serif' >Laser excitation (time integrated)</text>
<text x="84.6" y="495.5" font-size="18.4" fill="#ffffff" font-family='"Liberation Sans", sans-serif'><tspan font-style="italic">N</tspan> = 30, <tspan font-style="italic">j</tspan> = 4, <tspan font-style="italic">P</tspan> = 51.7ms</text>
</svg>
</body></html>
